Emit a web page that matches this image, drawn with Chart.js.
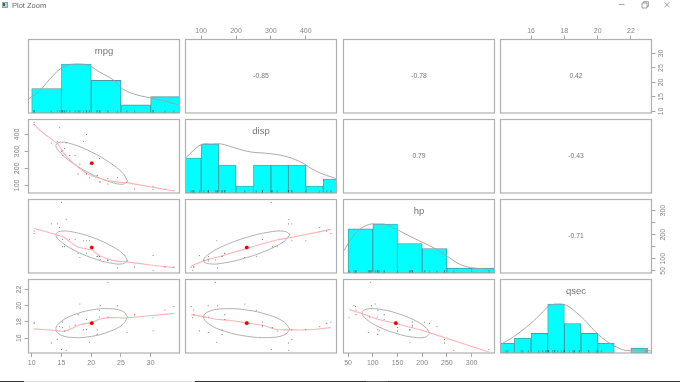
<!DOCTYPE html>
<html>
<head>
<meta charset="utf-8">
<script src="https://cdn.jsdelivr.net/npm/chart.js@4/dist/chart.umd.min.js"></script>
<style>
html,body{margin:0;padding:0;background:#fff;width:680px;height:382px;overflow:hidden;position:relative;font-family:"Liberation Sans",Arial,sans-serif}
canvas{position:absolute;filter:blur(.25px)}
#title{position:absolute;left:12px;top:1px;font-size:7.5px;line-height:9px;color:#666;filter:blur(.3px)}
.chrome{position:absolute;filter:blur(.3px)}
</style>
</head>
<body>
<div class="chrome" style="left:2px;top:2px;width:6px;height:6px;background:#b7c9cf;border:.5px solid #8fa6ad;box-sizing:border-box"></div>
<div class="chrome" style="left:3px;top:3px;width:2px;height:3px;background:#2f6f7d"></div>
<div id="title">Plot Zoom</div>
<svg class="chrome" style="left:610px;top:0" width="70" height="10"><path d="M9 4.5H14.5" stroke="#777" stroke-width=".7"/><path d="M32 3H37V8H32ZM33.5 3V1.7H38.4V6.5H37" stroke="#777" stroke-width=".7" fill="none"/><path d="M54.5 2.2L59.5 7.2M59.5 2.2L54.5 7.2" stroke="#777" stroke-width=".7"/></svg>
<div style="position:absolute;left:0;top:381px;width:680px;height:1px;background:#333"></div>
<div style="position:absolute;left:24px;top:381px;width:171px;height:1px;background:#ddd"></div>
<div style="position:absolute;left:366px;top:381px;width:22px;height:1px;background:#555"></div>
<script>
const mpg  = [21,21,22.8,21.4,18.7,18.1,14.3,24.4,22.8,19.2,17.8,16.4,17.3,15.2,10.4,10.4,14.7,32.4,30.4,33.9,21.5,15.5,15.2,13.3,19.2,27.3,26,30.4,15.8,19.7,15,21.4];
const disp = [160,160,108,258,360,225,360,146.7,140.8,167.6,167.6,275.8,275.8,275.8,472,460,440,78.7,75.7,71.1,120.1,318,304,350,400,79,120.3,95.1,351,145,301,121];
const hp   = [110,110,93,110,175,105,245,62,95,123,123,180,180,180,205,215,230,66,52,65,97,150,150,245,175,66,91,113,264,175,335,109];
const qsec = [16.46,17.02,18.61,19.44,17.02,20.22,15.84,20,22.9,18.3,18.9,17.4,17.6,18,17.98,17.82,17.42,19.47,18.52,19.9,20.01,16.87,17.3,15.41,17.05,18.9,16.7,16.9,14.5,15.5,14.6,18.6];

// variable names, axis limits, tick values
const varNames = ['mpg','disp','hp','qsec'];
const limits = [[9.46,34.84],[55.06,488.04],[40.68,346.32],[14.164,23.236]];
const mpgTicks  = [10,15,20,25,30];
const dispTicks = [100,200,300,400];
const hpTicks   = [50,100,150,200,250,300];
const hpRowLabels = [50,100,200,300];
const qsecTicks = [16,18,20,22];

// means (the red dots)
const means = [20.09,230.72,146.69,17.85];

// correlations, upper triangle
const corMpgDisp='-0.85', corMpgHp='-0.78', corMpgQsec='0.42', corDispHp='0.79', corDispQsec='-0.43', corHpQsec='-0.71';

// histograms: bin centres and counts
const mpgBins  = [12.5,17.5,22.5,27.5,32.5];
const mpgCounts = [6,12,8,2,4];
const dispBins = [75,125,175,225,275,325,375,425,475];
const dispCounts = [5,7,4,1,4,4,4,1,2];
const hpBins   = [75,125,175,225,275,325];
const hpCounts = [9,10,6,5,1,1];
const qsecBins = [14.5,15.5,16.5,17.5,18.5,19.5,20.5,21.5,22.5];
const qsecCounts = [2,3,4,10,6,4,2,0,1];

// density curves on the histograms (x, height as share of peak)
const mpgDensX  = [9.5,10.9,11.7,13.1,14.8,16.2,17.9,19.6,21.5,23.8,25.2,27.1,29.9,32.2,34.8];
const mpgDensY  = [.29,.41,.5,.7,.9,.98,1,.97,.83,.67,.5,.39,.31,.25,.16];
const dispDensX = [55,72,101,130,158,192,240,287,335,383,431,488];
const dispDensY = [.71,.83,.99,1,1,.93,.84,.81,.76,.64,.44,.29];
const hpDensX   = [42,55,72,92,109,126,150,183,224,251,278,305,325,346];
const hpDensY   = [.46,.68,.88,.99,1,.99,.88,.71,.51,.34,.17,.1,.09,.07];
const qsecDensX = [14.16,14.94,15.54,16.14,16.74,17.14,17.64,18.14,18.74,19.34,19.94,20.54,21.14,21.74,22.54,23.24];
const qsecDensY = [.17,.33,.48,.65,.85,.97,1,.97,.82,.63,.41,.24,.12,.05,.06,.04];

// smoothers in the scatter panels
const loMpgDispX = [10.4,12,14.3,15.4,17.06,19.3,21.5,23.8,26,30.5,33.9];
const loMpgDispY = [460,406,347,288,229,170,141,122,116,88,67];
const loMpgHpX = [10.4,14.3,15.4,17.6,20.1,21.5,23.8,26,30.5,33.9];
const loMpgHpY = [226,199,189,150,136,111,92,87,72,63];
const loDispHpX = [72,107.6,158,231,316,354,472];
const loDispHpY = [70,92,111,143,178,187,222];
const loMpgQsecX = [10.4,14,15.5,18.2,20.1,21.5,23.2,26,33.9];
const loMpgQsecY = [17.14,16.94,16.85,17.67,17.95,18.37,18.53,18.49,19.05];
const loDispQsecX = [72,107.6,144,182,231,278,316,354,402,472];
const loDispQsecY = [18.9,18.65,18.32,18.2,17.87,17.55,17.06,17.02,17.02,17.3];
const loHpQsecX = [52,79,109,147,180,216,335];
const loHpQsecY = [19.54,19.02,18.37,17.79,17.27,16.65,14.28];

// ellipse outlines
const elMpgX  = [26.12,25.31,23.1,20.09,17.08,14.87,14.06,14.87,17.08,20.09,23.1,25.31,26.12];
const elDispX = [354.6,338,292.7,230.7,168.7,123.4,106.8,123.4,168.7,230.7,292.7,338,354.6];
const elHpX   = [215.3,206,181,146.7,112.4,87.3,78.1,87.3,112.4,146.7,181,206,215.3];
const elMpgDispY = [125.4,172.1,234.5,296,339.9,354.5,336,289.3,226.9,165.4,121.5,106.9,125.4];
const elMpgHpY   = [93.2,121.9,157.1,189.6,210.6,214.4,200.2,171.5,136.3,103.8,82.8,78.9,93.2];
const elDispHpY  = [200.9,214.6,210.2,188.7,156,120.9,92.5,78.8,83.2,104.7,137.4,172.5,200.9];
const elMpgQsecY = [18.6,19.31,19.63,19.48,18.88,18.01,17.1,16.39,16.07,16.22,16.82,17.69,18.6];
const elDispQsecY= [17.08,17.99,18.87,19.47,19.63,19.32,18.62,17.71,16.83,16.23,16.07,16.38,17.08];
const elHpQsecY  = [16.58,17.38,18.31,19.11,19.58,19.58,19.12,18.32,17.39,16.59,16.12,16.12,16.58];

// ---------- wiring ----------
const columns = [mpg,disp,hp,qsec];
const histSets = [
  {bins:mpgBins,counts:mpgCounts,dx:mpgDensX,dy:mpgDensY},
  {bins:dispBins,counts:dispCounts,dx:dispDensX,dy:dispDensY},
  {bins:hpBins,counts:hpCounts,dx:hpDensX,dy:hpDensY},
  {bins:qsecBins,counts:qsecCounts,dx:qsecDensX,dy:qsecDensY}];
const zip=(a,b)=>a.map((v,i)=>({x:v,y:b[i]}));
const scatterSets = {
  '1,0':{lx:loMpgDispX,ly:loMpgDispY,ex:elMpgX,ey:elMpgDispY},
  '2,0':{lx:loMpgHpX,ly:loMpgHpY,ex:elMpgX,ey:elMpgHpY},
  '2,1':{lx:loDispHpX,ly:loDispHpY,ex:elDispX,ey:elDispHpY},
  '3,0':{lx:loMpgQsecX,ly:loMpgQsecY,ex:elMpgX,ey:elMpgQsecY},
  '3,1':{lx:loDispQsecX,ly:loDispQsecY,ex:elDispX,ey:elDispQsecY},
  '3,2':{lx:loHpQsecX,ly:loHpQsecY,ex:elHpX,ey:elHpQsecY}};
const corText = {'0,1':corMpgDisp,'0,2':corMpgHp,'0,3':corMpgQsec,'1,2':corDispHp,'1,3':corDispQsec,'2,3':corHpQsec};
// [tick values, labelled values, side]
const xAxes = {'0,1':[dispTicks,dispTicks,'top'],'0,3':[qsecTicks,qsecTicks,'top'],'3,0':[mpgTicks,mpgTicks,'bottom'],'3,2':[hpTicks,hpTicks,'bottom']};
const yAxes = {'0,3':[mpgTicks,mpgTicks,'right'],'1,0':[dispTicks,dispTicks,'left'],'2,3':[hpTicks,hpRowLabels,'right'],'3,0':[qsecTicks,qsecTicks,'left']};

// layout
const colLeft=[28.5,185.5,343.5,500.5], rowTop=[39.5,119.5,199.5,279.5];
const panelW=151, panelH=73.5, margin=32, axisSize=24;
const frameColor='#b0b0b0', tickColor='#a8a8a8', labelColor='#888888';

const framePlugin={id:'frame',afterDraw(c,args,o){
  const a=c.chartArea,g=c.ctx;g.save();
  g.strokeStyle=frameColor;g.lineWidth=1.2;g.strokeRect(a.left,a.top,a.width,a.height);
  g.textAlign='center';g.textBaseline='middle';
  if(o.cor){g.fillStyle='#777777';g.font='6.8px "Liberation Sans"';g.fillText(o.cor,(a.left+a.right)/2,(a.top+a.bottom)/2);}
  if(o.name){g.fillStyle='#777777';g.font='9.5px "Liberation Sans"';g.fillText(o.name,(a.left+a.right)/2,a.top+11.5);}
  g.restore();}};

function axis(range,spec,isX){
  const s={type:'linear',min:range[0],max:range[1],offset:false,grid:{offset:false}};
  if(!spec){s.display=false;return s;}
  const [vals,labs,pos]=spec;
  s.position=pos;
  s.display=true;
  s.border={display:false};
  s.grid={offset:false,drawOnChartArea:false,drawTicks:true,tickLength:4,color:tickColor,lineWidth:1};
  s.afterBuildTicks=sc=>{sc.ticks=vals.map(v=>({value:v}));};
  const t={font:{size:7,family:'"Liberation Sans"'},color:labelColor,padding:pos==='top'?0.5:2,autoSkip:false,
    callback:v=>labs.includes(v)?String(v):''};
  if(isX){t.minRotation=0;t.maxRotation=0;s.afterFit=sc=>{sc.height=axisSize;};}
  else{t.minRotation=90;t.maxRotation=90;t.crossAlign='center';s.afterFit=sc=>{sc.width=axisSize;};}
  s.ticks=t;
  return s;
}

for(let r=0;r<4;r++)for(let c=0;c<4;c++){
  const key=r+','+c;
  const cv=document.createElement('canvas');
  const L=Math.floor(colLeft[c])-margin, T=Math.floor(rowTop[r])-margin;
  const W=panelW+2*margin+2, H=Math.ceil(panelH)+2*margin+2;
  cv.width=W;cv.height=H;cv.style.left=L+'px';cv.style.top=T+'px';cv.style.width=W+'px';cv.style.height=H+'px';
  document.body.appendChild(cv);
  const xs=xAxes[key], ys=yAxes[key];
  const padL=colLeft[c]-L, padT=rowTop[r]-T, padR=W-padL-panelW, padB=H-padT-panelH;
  const padding={
    left:padL-(ys&&ys[2]==='left'?axisSize:0),
    right:padR-(ys&&ys[2]==='right'?axisSize:0),
    top:padT-(xs&&xs[2]==='top'?axisSize:0),
    bottom:padB-(xs&&xs[2]==='bottom'?axisSize:0)};
  const datasets=[];
  let yRange=limits[r], type='scatter', name=null, cor=corText[key]||null;
  if(r===c){
    const h=histSets[r], peak=Math.max(...h.counts);
    yRange=[0,1.5];name=varNames[r];type='bar';
    datasets.push({type:'scatter',data:columns[r].map(v=>({x:v,y:0})),pointStyle:'line',rotation:90,radius:3,borderWidth:.8,pointBorderColor:'rgba(0,0,0,.38)',pointBackgroundColor:'rgba(0,0,0,.38)',order:0});
    datasets.push({type:'line',data:zip(h.dx,h.dy),borderColor:'#a0a0a0',borderWidth:.9,pointRadius:0,tension:.4,order:1});
    datasets.push({type:'bar',data:h.bins.map((b,i)=>({x:b,y:h.counts[i]/peak})),backgroundColor:'#00ffff',borderColor:'#4a9a9f',borderWidth:.9,borderSkipped:false,barPercentage:1,categoryPercentage:1,grouped:false,order:2});
  } else if(r>c){
    const s=scatterSets[key];
    datasets.push({type:'scatter',data:[{x:means[c],y:means[r]}],pointRadius:1.8,pointBackgroundColor:'#f00000',pointBorderColor:'#f00000',borderWidth:.3,order:0});
    datasets.push({type:'scatter',data:zip(columns[c],columns[r]),pointRadius:.55,pointBackgroundColor:'#777',pointBorderColor:'#777',borderWidth:0,order:1});
    datasets.push({type:'line',data:zip(s.lx,s.ly),borderColor:'#ffb4b4',borderWidth:1.1,pointRadius:0,tension:.2,order:2});
    datasets.push({type:'line',data:zip(s.ex,s.ey),borderColor:'#a8a8a8',borderWidth:.9,pointRadius:0,tension:.42,order:3});
  }
  new Chart(cv,{type,data:{datasets},plugins:[framePlugin],options:{
    responsive:false,animation:false,devicePixelRatio:1,
    layout:{padding},
    scales:{x:axis(limits[c],xs,true),y:axis(yRange,ys,false)},
    plugins:{legend:{display:false},tooltip:{enabled:false},title:{display:false},frame:{cor,name}}
  }});
}
</script>
</body>
</html>
